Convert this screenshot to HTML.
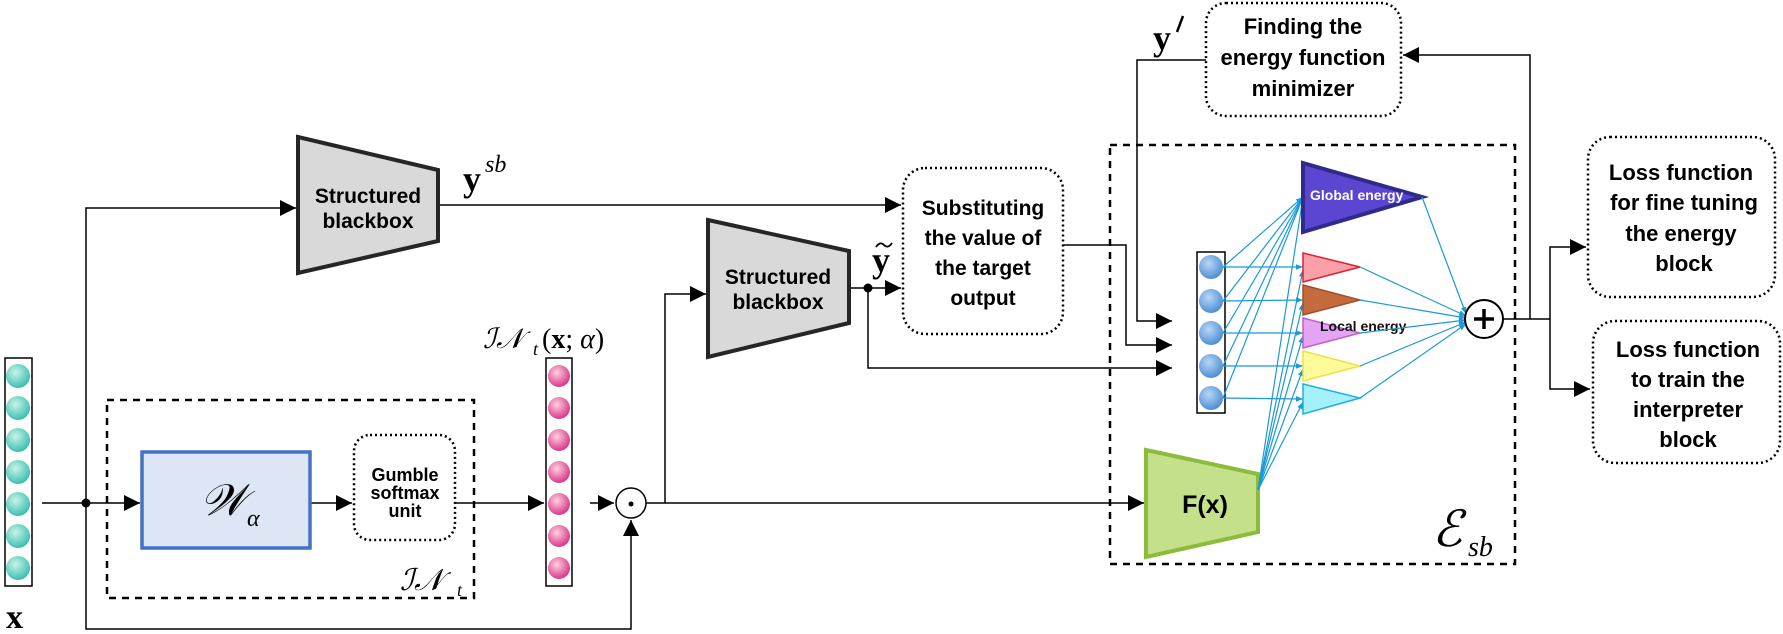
<!DOCTYPE html>
<html><head><meta charset="utf-8"><style>
html,body{margin:0;padding:0;background:#fff;}
svg{display:block;}
.t{font-family:"Liberation Sans",Arial,sans-serif;font-weight:bold;fill:#000;}
.m{font-family:"Liberation Serif","DejaVu Serif",serif;fill:#000;}
</style></head><body>
<svg width="1783" height="634" viewBox="0 0 1783 634" xmlns="http://www.w3.org/2000/svg">
<defs>
<marker id="A" viewBox="0 0 10 10" refX="10" refY="5" markerWidth="16" markerHeight="18" markerUnits="userSpaceOnUse" orient="auto"><path d="M0,0L10,5L0,10z" fill="#000"/></marker>
<marker id="b" viewBox="0 0 10 10" refX="10" refY="5" markerWidth="7" markerHeight="7" markerUnits="userSpaceOnUse" orient="auto"><path d="M0,1L10,5L0,9z" fill="#1a9ad6"/></marker>
<radialGradient id="tg" cx="0.4" cy="0.35" r="0.65"><stop offset="0" stop-color="#c8f5ec"/><stop offset="1" stop-color="#3cbfae"/></radialGradient>
<radialGradient id="pg" cx="0.4" cy="0.35" r="0.65"><stop offset="0" stop-color="#ffd0e4"/><stop offset="1" stop-color="#d83888"/></radialGradient>
<radialGradient id="bg" cx="0.4" cy="0.35" r="0.65"><stop offset="0" stop-color="#b8d6f6"/><stop offset="1" stop-color="#4f8fd6"/></radialGradient>
</defs>

<rect x="5" y="358" width="27" height="228" fill="#fff" stroke="#000" stroke-width="1.5"/>
<g fill="url(#tg)">
<circle cx="18" cy="376" r="12"/><circle cx="18" cy="408" r="12"/><circle cx="18" cy="440" r="12"/><circle cx="18" cy="472" r="12"/><circle cx="18" cy="504" r="12"/><circle cx="18" cy="536" r="12"/><circle cx="18" cy="568" r="12"/>
</g>
<text class="m" x="6" y="628" font-size="34" font-weight="bold">x</text>

<g fill="none" stroke="#000" stroke-width="1.5">
<line x1="42" y1="503" x2="140" y2="503" marker-end="url(#A)"/>
<polyline points="86,503 86,208 296,208" marker-end="url(#A)"/>
<polyline points="86,503 86,629 631,629 631,520" marker-end="url(#A)"/>
<line x1="310" y1="503" x2="352" y2="503" marker-end="url(#A)"/>
<line x1="455" y1="503" x2="544" y2="503" marker-end="url(#A)"/>
<line x1="590" y1="503" x2="614" y2="503" marker-end="url(#A)"/>
<line x1="646" y1="503" x2="1144" y2="503" marker-end="url(#A)"/>
<polyline points="665,503 665,294 706,294" marker-end="url(#A)"/>
<line x1="438" y1="205" x2="901" y2="205" marker-end="url(#A)"/>
<line x1="849" y1="288" x2="901" y2="288" marker-end="url(#A)"/>
<polyline points="868,288 868,368 1172,368" marker-end="url(#A)"/>
<polyline points="1063,245 1126,245 1126,345 1172,345" marker-end="url(#A)"/>
<polyline points="1206,60 1137,60 1137,321 1172,321" marker-end="url(#A)"/>
<line x1="1503" y1="319" x2="1550" y2="319"/>
<polyline points="1530,319 1530,55 1403,55" marker-end="url(#A)"/>
<polyline points="1550,319 1550,247 1586,247" marker-end="url(#A)"/>
<polyline points="1550,319 1550,389 1590,389" marker-end="url(#A)"/>
</g>
<circle cx="86" cy="503" r="4.5" fill="#000"/>
<circle cx="868" cy="288" r="4.5" fill="#000"/>

<rect x="107" y="400" width="367" height="198" fill="none" stroke="#000" stroke-width="2.5" stroke-dasharray="7,6"/>
<rect x="142" y="452" width="168" height="96" fill="#dce6f4" stroke="#4472c4" stroke-width="3.5"/>
<text class="m" x="200" y="515" font-size="44" font-style="italic">𝒲</text>
<text class="m" x="247" y="526" font-size="24" font-style="italic">α</text>
<rect x="354" y="435" width="101" height="105" rx="16" fill="#fff" stroke="#000" stroke-width="2.5" stroke-dasharray="2,3"/>
<g class="t" font-size="18" text-anchor="middle">
<text x="405" y="481">Gumble</text><text x="405" y="499">softmax</text><text x="405" y="517">unit</text>
</g>
<text class="m" x="400" y="590" font-size="30" font-style="italic">ℐ𝒩</text>
<text class="m" x="457" y="596" font-size="18" font-style="italic">t</text>

<rect x="546" y="358" width="26" height="228" fill="#fff" stroke="#000" stroke-width="1.5"/>
<g fill="url(#pg)">
<circle cx="559" cy="376" r="11"/><circle cx="559" cy="408" r="11"/><circle cx="559" cy="440" r="11"/><circle cx="559" cy="472" r="11"/><circle cx="559" cy="504" r="11"/><circle cx="559" cy="536" r="11"/><circle cx="559" cy="568" r="11"/>
</g>
<text class="m" x="483" y="348" font-size="28" font-style="italic">ℐ𝒩</text>
<text class="m" x="533" y="355" font-size="18" font-style="italic">t</text>
<text class="m" x="542" y="348" font-size="28">(<tspan font-weight="bold">x</tspan>; <tspan font-style="italic">α</tspan>)</text>

<circle cx="631" cy="503" r="15" fill="#fff" stroke="#000" stroke-width="1.5"/>
<circle cx="631" cy="504" r="2.5" fill="#000"/>

<polygon points="298,137 438,170 438,241 298,273" fill="#d9d9d9" stroke="#262626" stroke-width="4"/>
<g class="t" font-size="21" text-anchor="middle"><text x="368" y="203">Structured</text><text x="368" y="228">blackbox</text></g>
<text class="m" x="463" y="191" font-size="36" font-weight="bold">y</text>
<text class="m" x="485" y="172" font-size="24" font-style="italic">sb</text>
<polygon points="708,220 849,251 849,323 708,357" fill="#d9d9d9" stroke="#262626" stroke-width="4"/>
<g class="t" font-size="21" text-anchor="middle"><text x="778" y="284">Structured</text><text x="778" y="309">blackbox</text></g>
<text class="m" x="872" y="272" font-size="36" font-weight="bold">y</text>
<path d="M876,247 Q880,241 884,245 T892,243" fill="none" stroke="#000" stroke-width="1.8"/>

<rect x="903" y="168" width="160" height="166" rx="22" fill="#fff" stroke="#000" stroke-width="2.5" stroke-dasharray="2,3"/>
<g class="t" font-size="21" text-anchor="middle">
<text x="983" y="215">Substituting</text><text x="983" y="245">the value of</text><text x="983" y="275">the target</text><text x="983" y="305">output</text>
</g>

<rect x="1206" y="3" width="195" height="113" rx="20" fill="#fff" stroke="#000" stroke-width="2.5" stroke-dasharray="2,3"/>
<g class="t" font-size="22" text-anchor="middle">
<text x="1303" y="34">Finding the</text><text x="1303" y="65">energy function</text><text x="1303" y="96">minimizer</text>
</g>
<text class="m" x="1153" y="50" font-size="36" font-weight="bold">y</text>
<path d="M1183,16 L1177,32" stroke="#000" stroke-width="2.5"/>

<rect x="1110" y="145" width="405" height="419" fill="none" stroke="#000" stroke-width="2.5" stroke-dasharray="7,6"/>
<text class="m" x="1432" y="546" font-size="50" font-style="italic">ℰ</text>
<text class="m" x="1468" y="556" font-size="28" font-style="italic">sb</text>

<rect x="1197" y="252" width="28" height="161" fill="#fff" stroke="#000" stroke-width="1.5"/>
<g fill="url(#bg)">
<circle cx="1211" cy="267" r="12"/><circle cx="1211" cy="301" r="12"/><circle cx="1211" cy="333" r="12"/><circle cx="1211" cy="366" r="12"/><circle cx="1211" cy="398" r="12"/>
</g>

<polygon points="1146,450 1258,474 1258,532 1146,557" fill="#c5e08a" stroke="#8dbb3c" stroke-width="4"/>
<text class="t" x="1205" y="513" font-size="25" text-anchor="middle">F(x)</text>

<g stroke="#1a9ad6" stroke-width="1.2" fill="none" marker-end="url(#b)">
<line x1="1223" y1="267" x2="1303" y2="197"/><line x1="1223" y1="301" x2="1303" y2="197"/><line x1="1223" y1="333" x2="1303" y2="197"/><line x1="1223" y1="366" x2="1303" y2="197"/><line x1="1223" y1="398" x2="1303" y2="197"/>
<line x1="1223" y1="267" x2="1303" y2="267"/><line x1="1223" y1="301" x2="1303" y2="300"/><line x1="1223" y1="333" x2="1303" y2="333"/><line x1="1223" y1="366" x2="1303" y2="366"/><line x1="1223" y1="398" x2="1303" y2="399"/>
<line x1="1258" y1="490" x2="1303" y2="197"/><line x1="1258" y1="490" x2="1303" y2="270"/><line x1="1258" y1="490" x2="1303" y2="303"/><line x1="1258" y1="490" x2="1303" y2="336"/><line x1="1258" y1="490" x2="1303" y2="369"/><line x1="1258" y1="490" x2="1303" y2="402"/>
</g>

<polygon points="1303,163 1422,197 1303,232" fill="#5a46d0" stroke="#2f2a8e" stroke-width="4"/>
<text x="1310" y="200" font-family="Liberation Sans,sans-serif" font-weight="bold" font-size="14" fill="#fff">Global energy</text>
<polygon points="1303,253 1360,267 1303,282" fill="#fba0a8" stroke="#e02030" stroke-width="1.5"/>
<polygon points="1303,285 1360,300 1303,315" fill="#c46a3c" stroke="#a05030" stroke-width="1.5"/>
<polygon points="1303,318 1360,333 1303,348" fill="#e4a4f4" stroke="#c060c8" stroke-width="1.5"/>
<polygon points="1303,351 1360,366 1303,381" fill="#fffa9a" stroke="#f0e040" stroke-width="1.5"/>
<polygon points="1303,384 1360,398 1303,414" fill="#a4f0fc" stroke="#20b0e0" stroke-width="1.5"/>
<text x="1320" y="331" font-family="Liberation Sans,sans-serif" font-weight="bold" font-size="14" fill="#111">Local energy</text>
<g stroke="#1a9ad6" stroke-width="1.2" fill="none" marker-end="url(#b)">
<line x1="1422" y1="197" x2="1466" y2="314"/><line x1="1360" y1="267" x2="1466" y2="316"/><line x1="1360" y1="300" x2="1466" y2="318"/><line x1="1360" y1="333" x2="1466" y2="320"/><line x1="1360" y1="366" x2="1466" y2="322"/><line x1="1360" y1="398" x2="1466" y2="324"/>
</g>
<circle cx="1484" cy="319" r="19" fill="#fff" stroke="#000" stroke-width="2"/>
<path d="M1474,319H1494M1484,309V329" stroke="#000" stroke-width="3.5"/>

<rect x="1588" y="137" width="187" height="160" rx="22" fill="#fff" stroke="#000" stroke-width="2.5" stroke-dasharray="2,3"/>
<g class="t" font-size="22" text-anchor="middle">
<text x="1681" y="180">Loss function</text><text x="1684" y="210">for fine tuning</text><text x="1681" y="241">the energy</text><text x="1684" y="271">block</text>
</g>
<rect x="1593" y="321" width="187" height="142" rx="22" fill="#fff" stroke="#000" stroke-width="2.5" stroke-dasharray="2,3"/>
<g class="t" font-size="22" text-anchor="middle">
<text x="1688" y="357">Loss function</text><text x="1688" y="387">to train the</text><text x="1688" y="417">interpreter</text><text x="1688" y="447">block</text>
</g>
</svg>
</body></html>
